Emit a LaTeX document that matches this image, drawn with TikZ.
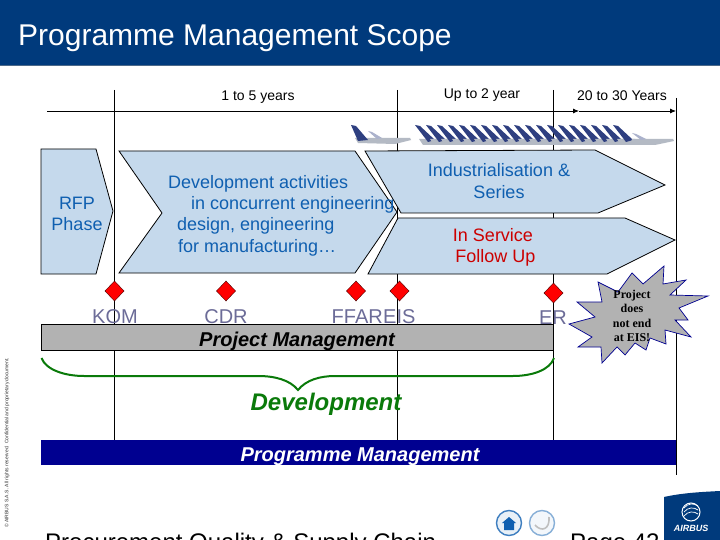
\documentclass[tikz,border=0pt]{standalone}
\usepackage{fontspec}
\setmainfont{Liberation Sans}
\newfontfamily\serifbf{Liberation Serif}
\usetikzlibrary{arrows.meta}
\definecolor{bandblue}{HTML}{003A7C}
\definecolor{phaseblue}{HTML}{C5D9EC}
\definecolor{phasetext}{HTML}{0F5FB0}
\definecolor{gatetext}{HTML}{6C6C98}
\definecolor{barnavy}{HTML}{000090}
\definecolor{bargrey}{HTML}{B2B2B2}
\definecolor{bracegreen}{HTML}{0A7A0A}
\definecolor{tailblue}{HTML}{2E3F80}
\definecolor{bodygrey}{HTML}{B4BAC4}
\tikzset{
  phase/.style={draw=black,fill=phaseblue,line width=0.8pt},
  phasetxt/.style={text=phasetext,font=\fontsize{18}{21.3}\selectfont,align=center},
  gate/.style={draw=black!70!red,fill=red,line width=0.4pt},
  gatetxt/.style={text=gatetext,font=\fontsize{20}{20}\selectfont,inner sep=0pt},
  span/.style={font=\fontsize{14}{14}\selectfont,inner sep=0pt},
  bartxt/.style={font=\fontsize{20}{20}\selectfont\bfseries\itshape,inner sep=0pt}
}
\newcommand{\planetail}[1]{
   \fill[bodygrey] (#1+4,139) -- (#1+22,139) -- (#1+24,145) -- (#1+8,145) -- cycle;
   \fill[tailblue] (#1,125) -- (#1+5,126) -- (#1+20,140) -- (#1+13,142) -- cycle;
}
\begin{document}
\begin{tikzpicture}[x=1pt,y=-1pt]
   \useasboundingbox (0,0) rectangle (720,540);
   \fill[white] (0,0) rectangle (720,540);
   % title band
   \fill[bandblue] (0,0) rectangle (720,66);
   \draw[black!30!bandblue!70!white,line width=0.8pt] (0,65.6) -- (720,65.6);
   \node[anchor=west,inner sep=0pt,text=white,font=\fontsize{30}{30}\selectfont] (title) at (18,38) {Programme Management Scope};
   % time axis
   \coordinate (axl) at (47,111);
   \coordinate (axm) at (579,111);
   \coordinate (axr) at (676,111);
   \draw[line width=0.8pt,-{Latex[length=6pt,width=5pt]}] (axl) -- (axm);
   \draw[line width=0.8pt,-{Latex[length=6pt,width=5pt]}] (axm) -- (axr);
   \coordinate (t1) at (114,90);  \coordinate (b1) at (114,440);
   \coordinate (t2) at (397,90);  \coordinate (b2) at (397,440);
   \coordinate (t3) at (553,90);  \coordinate (b3) at (553,440);
   \coordinate (t4) at (676,98);  \coordinate (b4) at (676,475);
   \draw[line width=0.7pt] (t1) -- (b1);
   \draw[line width=0.7pt] (t2) -- (b2);
   \draw[line width=0.7pt] (t3) -- (b3);
   \draw[line width=0.7pt] (t4) -- (b4);
   \node[span] (y1) at (258,97) {1 to 5 years};
   \node[span] (y2) at (482,95) {Up to 2 year};
   \node[span] (y3) at (622,96) {20 to 30 Years};
   % aircraft
   \fill[bodygrey] (355,138) -- (410,138) -- (411,140) -- (395,144) -- (358,143) -- cycle;
   \fill[tailblue] (351,125) -- (356,126) -- (368,140) -- (358,141) -- cycle;
   \fill[white!60!tailblue] (368,131) -- (372,132) -- (382,138) -- (377,139) -- cycle;
   \foreach \px in {415,426,...,614} {\planetail{\px}}
   \fill[bodygrey] (632,139) -- (673,139) -- (674,141) -- (655,145) -- (630,145) -- cycle;
   \fill[white!60!tailblue] (632,133) -- (636,134) -- (646,139) -- (641,140) -- cycle;
   % phases
   \draw[phase] (41,149) -- (96,149) -- (113,211) -- (96,274) -- (41,274) -- cycle;
   \draw[phase] (119,151) -- (355,151) -- (397,212) -- (355,273) -- (119,273) -- (162,213) -- cycle;
   \draw[phase] (365,151) -- (595,150) -- (665,185) -- (598,213) -- (401,213) -- cycle;
   \draw[phase] (398,218) -- (625,218) -- (675,240) -- (607,274) -- (368,274) -- cycle;
   \node[phasetxt] (rfp) at (77,214) {RFP\\Phase};
   \node[phasetxt,align=left,anchor=north west,inner sep=0pt] (dev) at (168,175) {Development activities\\\hspace*{23pt}in concurrent engineering\\\hspace*{9pt}design, engineering\\\hspace*{10pt}for manufacturing…};
   \node[phasetxt] (ind) at (499,181) {Industrialisation \&\\Series};
   \node[phasetxt,text=red!80!black] (svc) at (493,247.5) {In Service\\\hspace*{5pt}Follow Up};
   % gates
   \foreach \gx/\gy/\gname in {114.5/291/kom,226/291/cdr,356/291/ffar,399.5/291/eis,553.5/293/er}
     \draw[gate] (\gx-9.5,\gy) -- (\gx,\gy-10) -- (\gx+9.5,\gy) -- (\gx,\gy+10) -- cycle;
   \node[gatetxt] (kom) at (115,317) {KOM};
   \node[gatetxt] (cdr) at (226,317) {CDR};
   \node[gatetxt,anchor=east] (ffar) at (383,317) {FFAR};
   \node[gatetxt,anchor=west] (eis) at (383,317) {EIS};
   \node[gatetxt] (er) at (553,318) {ER};
   % bars
   \draw[fill=bargrey,line width=0.8pt] (41,324) rectangle (553,350);
   \node[bartxt] (pm) at (297,341) {Project Management};
   \fill[barnavy] (41,440) rectangle (676,465);
   \node[bartxt,text=white] (prm) at (360,457) {Programme Management};
   % brace
   \draw[bracegreen,line width=2pt] (41.5,358) .. controls (46,370) and (65,376) .. (84,376)
      -- (258,376) .. controls (275,376) and (290,380) .. (298,390)
      .. controls (306,380) and (320,376) .. (335,376) -- (513,376)
      .. controls (532,376) and (550,370) .. (554,358);
   \node[text=bracegreen,font=\fontsize{24}{24}\selectfont\bfseries\itshape,inner sep=0pt] (devl) at (326,404) {Development};
   % star
   \draw[draw=barnavy,fill=bargrey,line width=0.7pt]
      (664,266) -- (663,284) -- (686,280) -- (670,295) -- (708,296) -- (679,308) -- (688,320)
      -- (675,320) -- (691,337) -- (665,330) -- (666,344) -- (650,338) -- (646,350) -- (635,343)
      -- (625,355) -- (617,347) -- (602,363) -- (601,347) -- (578,347) -- (592,337) -- (569,324)
      -- (595,317) -- (577,302) -- (602,302) -- (598,282) -- (618,292) -- (632,273) -- (643,284) -- cycle;
   \node[font=\serifbf\bfseries\fontsize{12}{14.6}\selectfont,align=center,inner sep=0pt] (star) at (632,316) {Project\\does\\not end\\at EIS!};
   % footer
   \node[rotate=90,inner sep=0pt,font=\fontsize{5}{5}\selectfont,anchor=west,text=black!80] (copy) at (7,528) {© AIRBUS S.A.S. All rights reserved. Confidential and proprietary document.};
   \node[anchor=west,inner sep=0pt,font=\fontsize{24}{24}\selectfont] (proc) at (45,544.5) {Procurement Quality \& Supply Chain};
   \node[anchor=west,inner sep=0pt,font=\fontsize{24}{24}\selectfont] (page) at (570,544.5) {Page 42};
   \fill[bandblue] (664,497) .. controls (682,493) and (700,492) .. (720,491) -- (720,540) -- (664,540) -- cycle;
   \node[text=white,inner sep=0pt,font=\fontsize{9}{9}\selectfont\bfseries\itshape] (airbus) at (691,528) {AIRBUS};
   \draw[white,line width=1pt] (691,512) circle (9);
   \foreach \oy in {-4,0,4}
     \draw[white,line width=0.7pt] (684,512+\oy) .. controls (688,507+\oy) and (694,507+\oy) .. (698,510+\oy);
   \draw[phasetext!80,line width=1.4pt,fill=phaseblue!40] (509,523) circle (12.5);
   \fill[phasetext] (502,523) -- (509,517) -- (516,523) -- (514,523) -- (514,530) -- (504,530) -- (504,523) -- cycle;
   \draw[phasetext!50,line width=1.4pt,fill=phaseblue!20] (542,523) circle (12.5);
   \draw[black!25,line width=1.6pt] (549,517) .. controls (550,530) and (541,532) .. (535,525);
\end{tikzpicture}
\end{document}
